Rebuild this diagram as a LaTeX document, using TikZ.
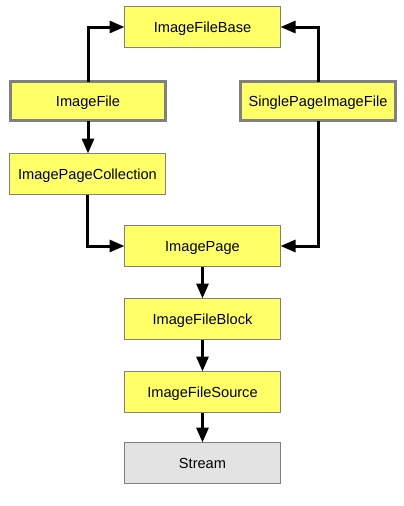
\documentclass[tikz,border=0pt]{standalone}
\usepackage{fontspec}
\setmainfont{Liberation Sans}
\usetikzlibrary{arrows.meta}
\definecolor{boxyellow}{HTML}{FFFF66}
\definecolor{boxgray}{HTML}{808080}
\definecolor{streamfill}{HTML}{E3E3E3}
\begin{document}
\begin{tikzpicture}[x=1pt,y=-1pt,
  cls/.style={draw=boxgray, line width=1pt, fill=boxyellow, minimum width=156pt, minimum height=41pt, inner sep=0pt, outer sep=0pt, text height=10.5pt, text depth=0pt, font=\fontsize{14.6}{17}\selectfont},
  thick cls/.style={cls, line width=3pt, minimum width=155pt, minimum height=39pt},
  ext/.style={cls, fill=streamfill},
  arr/.style={line width=3pt, -{Triangle[length=15pt,width=12pt]}}
]
\useasboundingbox (0,0) rectangle (404,506);
\node[cls] (base) at (202.5,27) {ImageFileBase};
\node[thick cls] (file) at (88,101) {ImageFile};
\node[thick cls] (single) at (318,101) {SinglePageImageFile};
\node[cls] (coll) at (87.5,174) {ImagePageCollection};
\node[cls] (page) at (202.5,246) {ImagePage};
\node[cls] (block) at (202.5,319) {ImageFileBlock};
\node[cls] (source) at (202.5,392) {ImageFileSource};
\node[ext] (stream) at (202.5,463) {Stream};

\draw[arr] (file.north) |- (base.west);
\draw[arr] (single.north) |- (base.east);
\draw[arr] (file.south) -- (file.south |- coll.north);
\draw[arr] (coll.south) |- (page.west);
\draw[arr] (single.south) |- (page.east);
\draw[arr] (page) -- (block);
\draw[arr] (block) -- (source);
\draw[arr] (source) -- (stream);
\end{tikzpicture}
\end{document}
